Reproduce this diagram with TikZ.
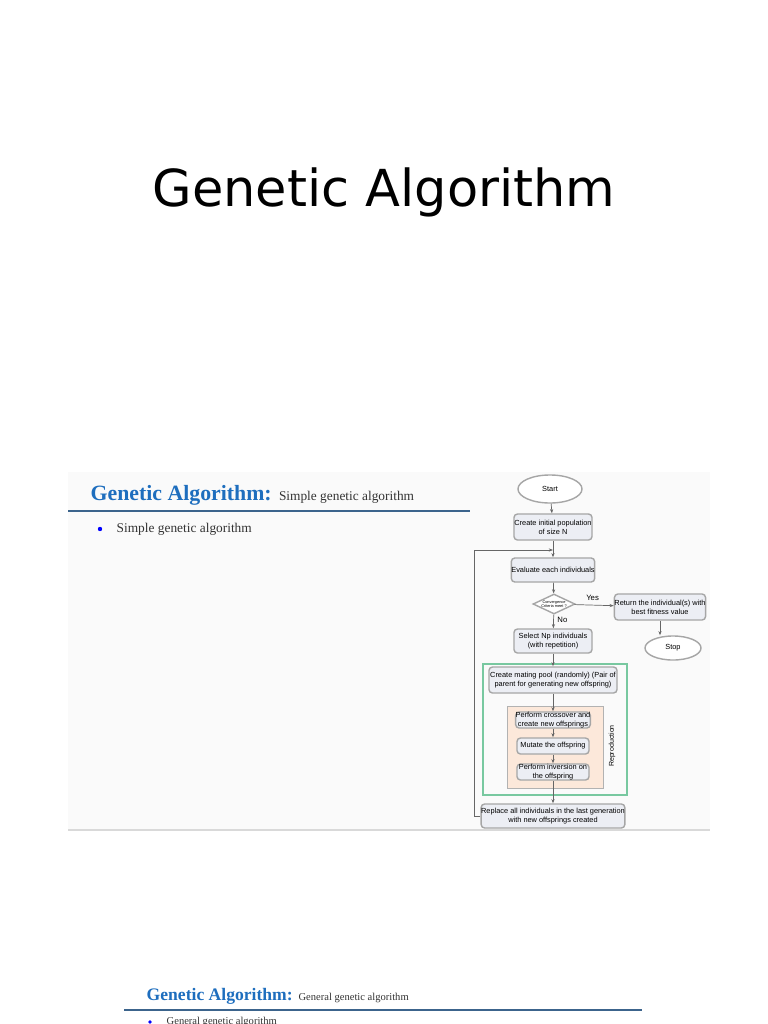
\documentclass[tikz,border=0pt]{standalone}
\usepackage{fontspec}
\setmainfont{DejaVu Sans}
\newfontfamily\slidefont{Liberation Serif}
\newfontfamily\chartfont{Liberation Sans}
\usetikzlibrary{shapes.geometric, positioning, arrows.meta}
\definecolor{gablue}{RGB}{30,110,190}
\definecolor{rulecol}{RGB}{60,100,140}
\definecolor{boxfill}{RGB}{236,238,244}
\definecolor{greenframe}{RGB}{120,200,160}
\definecolor{peach}{RGB}{252,232,218}
\tikzset{
flow/.style={draw=gray!70, fill=boxfill, rounded corners=1pt, align=center, inner sep=0pt, font=\chartfont\fontsize{2.1}{2.6}\selectfont}, % flowchart boxes
term/.style={draw=gray!70, fill=white, ellipse, inner sep=0pt, font=\chartfont\fontsize{2.1}{2.6}\selectfont}, % start / stop
link/.style={-{Stealth[length=1.2pt]}, gray!80!black, line width=0.2pt}, % connectors
}
\begin{document}
\begin{tikzpicture}[x=0.01cm, y=-0.01cm]
\useasboundingbox (0,0) rectangle (768,1024);
\fill[white] (0,0) rectangle (768,1024);
\node[font=\fontsize{14.5}{17}\selectfont] (title) at (384,192) {Genetic Algorithm};
% first slide
\fill[gray!4] (68,472) rectangle (710,830);
\draw[gray!30, line width=0.4pt] (68,830) -- (710,830);
\node[anchor=base west, inner sep=0pt] (head) at (90,500) {\slidefont\bfseries\color{gablue}\fontsize{6.2}{7}\selectfont Genetic Algorithm: \mdseries\color{black!80}\fontsize{3.8}{4.5}\selectfont Simple genetic algorithm};
\draw[rulecol, line width=0.6pt] (68,511) -- (470,511);
\fill[blue] (100,529) circle (2.2);
\node[anchor=west, inner sep=0pt, font=\slidefont\fontsize{3.8}{4.5}\selectfont, black!80] (bullet) at (116,529) {Simple genetic algorithm};
% flowchart
\draw[greenframe, line width=0.35pt] (483,664) rectangle (627,795);
\draw[gray!60, fill=peach, line width=0.25pt] (507,706) rectangle (603,788);
\node[term, minimum width=0.64cm, minimum height=0.28cm] (start) at (550,489) {Start};
\node[flow, minimum width=0.78cm, minimum height=0.26cm] (init) at (553,527) {Create initial population\\of size N};
\node[flow, minimum width=0.78cm, minimum height=0.24cm] (eval) at (553,570) {Evaluate each individuals};
\node[draw=gray!70, fill=white, diamond, aspect=2, inner sep=0pt, minimum width=0.42cm, minimum height=0.2cm, align=center, font=\chartfont\fontsize{1.1}{1.3}\selectfont] (conv) at (554,604) {Convergence\\Criteria meet ?};
\node[flow, minimum width=0.9cm, minimum height=0.26cm] (ret) at (660,607) {Return the individual(s) with\\best fitness value};
\node[term, minimum width=0.56cm, minimum height=0.24cm] (stop) at (673,648) {Stop};
\node[flow, minimum width=0.78cm, minimum height=0.24cm] (sel) at (553,641) {Select Np individuals\\(with repetition)};
\node[flow, minimum width=1.28cm, minimum height=0.26cm] (pool) at (553,680) {Create mating pool (randomly) (Pair of\\parent for generating new offspring)};
\node[flow, minimum width=0.72cm, minimum height=0.16cm] (cross) at (553,720) {Perform crossover and\\create new offsprings};
\node[flow, minimum width=0.72cm, minimum height=0.16cm] (mut) at (553,746) {Mutate the offspring};
\node[flow, minimum width=0.72cm, minimum height=0.16cm] (inv) at (553,772) {Perform inversion on\\the offspring};
\node[rotate=90, font=\chartfont\fontsize{2}{2.5}\selectfont] (repro) at (612,746) {Reproduction};
\node[flow, minimum width=1.34cm, minimum height=0.24cm] (repl) at (553,816) {Replace all individuals in the last generation\\with new offsprings created};
\coordinate (loopin) at (553,550);
\draw[link] (start) -- (init);
\draw[link] (init) -- (eval);
\draw[link] (eval) -- (conv);
\draw[link] (conv) -- node[above right, font=\chartfont\fontsize{2.2}{2.6}\selectfont, text=black, inner sep=1pt, pos=0.2] {Yes} (ret);
\draw[link] (conv) -- node[right, font=\chartfont\fontsize{2.2}{2.6}\selectfont, text=black, inner sep=1pt, pos=0.4] {No} (sel);
\draw[link] (ret) -- (stop.north -| ret);
\draw[link] (sel) -- (pool);
\draw[link] (pool) -- (cross);
\draw[link] (cross) -- (mut);
\draw[link] (mut) -- (inv);
\draw[link] (inv) -- (repl);
\draw[link] (repl.west) -- (474,816) -- (474,550) -- (loopin);
% second slide, cut off
\node[anchor=base west, inner sep=0pt] (head2) at (146,1000) {\slidefont\bfseries\color{gablue}\fontsize{5}{6}\selectfont Genetic Algorithm: \mdseries\color{black!80}\fontsize{3}{3.6}\selectfont General genetic algorithm};
\draw[rulecol, line width=0.5pt] (124,1010) -- (642,1010);
\fill[blue] (150,1022) circle (1.8);
\node[anchor=west, inner sep=0pt, font=\slidefont\fontsize{3}{3.6}\selectfont, black!80] (bullet2) at (166,1022) {General genetic algorithm};
\end{tikzpicture}
\end{document}
